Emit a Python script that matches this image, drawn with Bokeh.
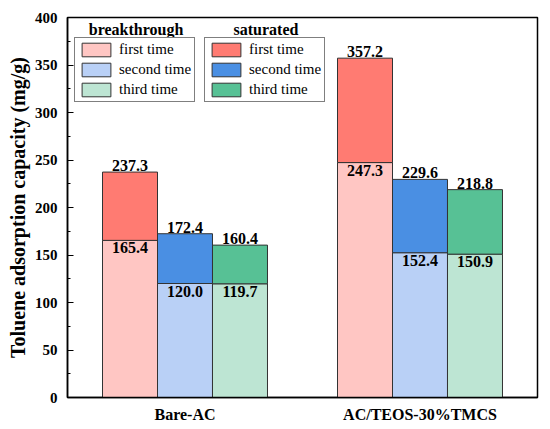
from bokeh.core.properties import value
from bokeh.embed import file_html
from bokeh.models import (ColumnDataSource, FactorRange, Label, Legend,
                          LegendItem, SingleIntervalTicker)
from bokeh.plotting import figure
from bokeh.resources import INLINE
from bokeh.transform import dodge

groups = ["Bare-AC", "AC/TEOS-30%TMCS"]
runs = ["first time", "second time", "third time"]
# one list per run, values for [Bare-AC, AC/TEOS-30%TMCS]
breakthrough = [[165.4, 247.3], [120.0, 152.4], [119.7, 150.9]]
saturated = [[237.3, 357.2], [172.4, 229.6], [160.4, 218.8]]

light_colors = ["#ffc6c3", "#b9d0f6", "#bde5d3"]
dark_colors = ["#ff7b72", "#4a8fe3", "#57c195"]
FONT = "Liberation Serif"
BAR_W = 0.234
offsets = [-BAR_W, 0.0, BAR_W]

p = figure(
    x_range=FactorRange(*groups),
    y_range=(0, 400),
    width=550,
    height=429,
    output_backend="svg",
    toolbar_location=None,
    min_border_left=67,
    min_border_right=13,
    min_border_top=17,
    min_border_bottom=32,
)
p.xgrid.grid_line_color = None
p.ygrid.grid_line_color = None
p.outline_line_color = "black"
p.outline_line_width = 1.5
p.outline_line_alpha = 1.0

bt_renderers = []
sat_renderers = []
for i, run in enumerate(runs):
    src = ColumnDataSource(dict(
        group=groups,
        bt=breakthrough[i],
        sat=saturated[i],
        bt_lbl=[f"{v:.1f}" for v in breakthrough[i]],
        sat_lbl=[f"{v:.1f}" for v in saturated[i]],
    ))
    x = dodge("group", offsets[i], range=p.x_range)
    r1 = p.vbar(x=x, width=BAR_W, bottom=0, top="bt", source=src,
                fill_color=light_colors[i], line_color="#333333", line_width=1)
    r2 = p.vbar(x=x, width=BAR_W, bottom="bt", top="sat", source=src,
                fill_color=dark_colors[i], line_color="#333333", line_width=1)
    bt_renderers.append(r1)
    sat_renderers.append(r2)
    p.text(x=x, y="sat", text="sat_lbl", source=src, text_align="center",
           text_baseline="bottom", y_offset=-1, text_font=value(FONT),
           text_font_style="bold", text_font_size="16px", text_color="black")
    p.text(x=x, y="bt", text="bt_lbl", source=src, text_align="center",
           text_baseline="top", y_offset=2, text_font=value(FONT),
           text_font_style="bold", text_font_size="16px", text_color="black")

# axes
p.yaxis.ticker = SingleIntervalTicker(interval=50, num_minor_ticks=2)
p.yaxis.axis_label = "Toluene adsorption capacity (mg/g)"
p.yaxis.axis_label_text_font = FONT
p.yaxis.axis_label_text_font_style = "bold"
p.yaxis.axis_label_text_font_size = "20px"
p.yaxis.axis_label_standoff = 3
p.yaxis.major_label_text_font = FONT
p.yaxis.major_label_text_font_style = "bold"
p.yaxis.major_label_text_font_size = "15px"
p.yaxis.major_label_standoff = 10
p.yaxis.major_tick_in = 6
p.yaxis.major_tick_out = 0
p.yaxis.minor_tick_in = 3
p.yaxis.minor_tick_out = 0
p.yaxis.major_tick_line_color = "black"
p.yaxis.minor_tick_line_color = "black"

p.xaxis.major_tick_line_color = None
p.xaxis.minor_tick_line_color = None
p.xaxis.major_label_text_font = FONT
p.xaxis.major_label_text_font_style = "bold"
p.xaxis.major_label_text_font_size = "16px"
p.xaxis.major_label_standoff = 2

for ax in (p.xaxis, p.yaxis):
    ax.axis_line_width = 1.5
    ax.axis_line_color = "black"
    ax.major_label_text_color = "black"
    ax.axis_label_text_color = "black"


def make_legend(renderers, loc):
    leg = Legend(
        items=[LegendItem(label=run, renderers=[r]) for run, r in zip(runs, renderers)],
        location=loc,
        orientation="vertical",
        label_text_font=FONT,
        label_text_font_size="15px",
        label_text_color="black",
        glyph_width=36,
        glyph_height=17,
        label_height=17,
        label_standoff=5,
        spacing=3,
        padding=3,
        margin=0,
        border_line_color="black",
        border_line_width=1,
        background_fill_color="white",
        background_fill_alpha=1.0,
    )
    p.add_layout(leg)


make_legend(bt_renderers, (7, 295))
make_legend(sat_renderers, (137, 295))

for txt, cx in (("breakthrough", 68.5), ("saturated", 198.5)):
    p.add_layout(Label(
        x=cx, y=368, x_units="screen", y_units="screen", text=txt,
        text_align="center", text_baseline="middle", text_font=FONT,
        text_font_style="bold", text_font_size="16px", text_color="black",
    ))

open("out.html", "w").write(file_html(p, INLINE))
